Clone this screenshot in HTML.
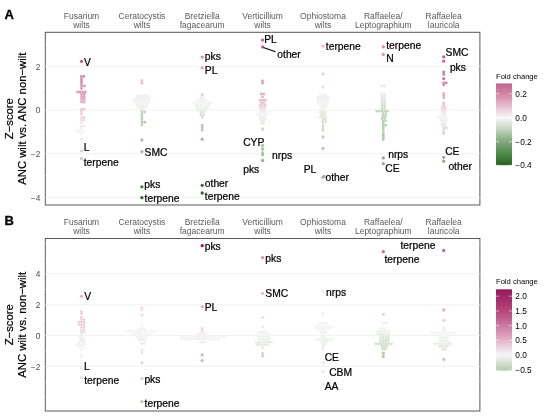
<!DOCTYPE html>
<html><head><meta charset="utf-8"><title>Figure</title>
<style>html,body{margin:0;padding:0;background:#fff}svg{display:block}</style>
</head><body>
<svg width="550" height="417" viewBox="0 0 550 417">
<style>
text{font-family:"Liberation Sans",sans-serif}
.lb{font-size:10.3px;fill:#000;stroke:#000;stroke-width:0.22px}
.tk{font-size:8.3px;fill:#4d4d4d;text-anchor:end}
.st{font-size:8.5px;fill:#5a5a5a;text-anchor:middle}
.ax{font-size:11.3px;fill:#000;stroke:#000;stroke-width:0.2px;text-anchor:middle}
.lt{font-size:7.6px;fill:#000}
.ll{font-size:8.3px;fill:#000}
.pn{font-size:13px;font-weight:bold;fill:#000;stroke:#000;stroke-width:0.3px}
</style>
<defs>
<linearGradient id="gA" x1="0" y1="0" x2="0" y2="1"><stop offset="0.000" stop-color="#c2648e"/><stop offset="0.042" stop-color="#c66f96"/><stop offset="0.083" stop-color="#cb799d"/><stop offset="0.125" stop-color="#d083a5"/><stop offset="0.167" stop-color="#d693b0"/><stop offset="0.208" stop-color="#dda3bc"/><stop offset="0.250" stop-color="#e3b3c7"/><stop offset="0.292" stop-color="#e9c4d3"/><stop offset="0.333" stop-color="#eed5df"/><stop offset="0.375" stop-color="#f3e6ec"/><stop offset="0.417" stop-color="#f8f8f8"/><stop offset="0.458" stop-color="#e9eee8"/><stop offset="0.500" stop-color="#d9e4d7"/><stop offset="0.542" stop-color="#cadac6"/><stop offset="0.583" stop-color="#b9cfb5"/><stop offset="0.625" stop-color="#a7c2a3"/><stop offset="0.667" stop-color="#96b691"/><stop offset="0.708" stop-color="#84a97f"/><stop offset="0.750" stop-color="#76a071"/><stop offset="0.792" stop-color="#679762"/><stop offset="0.833" stop-color="#598e54"/><stop offset="0.875" stop-color="#4c8447"/><stop offset="0.917" stop-color="#3f793b"/><stop offset="0.958" stop-color="#326e2e"/><stop offset="1.000" stop-color="#256322"/></linearGradient>
<linearGradient id="gB" x1="0" y1="0" x2="0" y2="1"><stop offset="0.000" stop-color="#96185a"/><stop offset="0.042" stop-color="#9b1f60"/><stop offset="0.083" stop-color="#a02665"/><stop offset="0.125" stop-color="#a52d6b"/><stop offset="0.167" stop-color="#aa3470"/><stop offset="0.208" stop-color="#af3b76"/><stop offset="0.250" stop-color="#b4437b"/><stop offset="0.292" stop-color="#b94d82"/><stop offset="0.333" stop-color="#be588a"/><stop offset="0.375" stop-color="#c36492"/><stop offset="0.417" stop-color="#c8709a"/><stop offset="0.458" stop-color="#cd7ca3"/><stop offset="0.500" stop-color="#d28aad"/><stop offset="0.542" stop-color="#d897b6"/><stop offset="0.583" stop-color="#dda5c0"/><stop offset="0.625" stop-color="#e3b2ca"/><stop offset="0.667" stop-color="#e8c2d4"/><stop offset="0.708" stop-color="#ecd2df"/><stop offset="0.750" stop-color="#f1e2e9"/><stop offset="0.792" stop-color="#f6f2f4"/><stop offset="0.833" stop-color="#eff2ee"/><stop offset="0.875" stop-color="#e0e8de"/><stop offset="0.917" stop-color="#d1dfce"/><stop offset="0.958" stop-color="#c2d5bd"/><stop offset="1.000" stop-color="#b3cbad"/></linearGradient>
</defs>
<rect width="550" height="417" fill="#fff"/>
<text x="40.3" y="69.6" class="tk">2</text>
<text x="40.3" y="113.3" class="tk">0</text>
<text x="40.3" y="157.0" class="tk">−2</text>
<text x="40.3" y="200.7" class="tk">−4</text>
<text x="81.5" y="18.6" class="st">Fusarium</text>
<text x="81.5" y="27.6" class="st">wilts</text>
<text x="141.9" y="18.6" class="st">Ceratocystis</text>
<text x="141.9" y="27.6" class="st">wilts</text>
<text x="202.2" y="18.6" class="st">Bretziella</text>
<text x="202.2" y="27.6" class="st">fagacearum</text>
<text x="262.6" y="18.6" class="st">Verticillium</text>
<text x="262.6" y="27.6" class="st">wilts</text>
<text x="323.0" y="18.6" class="st">Ophiostoma</text>
<text x="323.0" y="27.6" class="st">wilts</text>
<text x="383.3" y="18.6" class="st">Raffaelea/</text>
<text x="383.3" y="27.6" class="st">Leptographium</text>
<text x="443.7" y="18.6" class="st">Raffaelea</text>
<text x="443.7" y="27.6" class="st">lauricola</text>
<text x="4.6" y="19.2" class="pn">A</text>
<text transform="translate(13.2,118.7) rotate(-90)" class="ax">Z−score</text>
<text transform="translate(26.0,118.7) rotate(-90)" class="ax">ANC wilt vs. ANC non−wilt</text>
<rect x="45.3" y="32.3" width="434.6" height="172.7" fill="none" stroke="#595959" stroke-width="1"/>
<line x1="44.8" x2="481.9" y1="197.4" y2="197.4" stroke="#ebebeb" stroke-width="0.7"/>
<line x1="44.699999999999996" x2="45.9" y1="175.6" y2="175.6" stroke="#fff" stroke-width="0.6" opacity="0.8"/>
<line x1="479.29999999999995" x2="480.5" y1="175.6" y2="175.6" stroke="#fff" stroke-width="0.6" opacity="0.8"/>
<line x1="44.8" x2="481.9" y1="153.7" y2="153.7" stroke="#ebebeb" stroke-width="0.7"/>
<line x1="44.699999999999996" x2="45.9" y1="131.8" y2="131.8" stroke="#fff" stroke-width="0.6" opacity="0.8"/>
<line x1="479.29999999999995" x2="480.5" y1="131.8" y2="131.8" stroke="#fff" stroke-width="0.6" opacity="0.8"/>
<line x1="44.8" x2="481.9" y1="110.0" y2="110.0" stroke="#ebebeb" stroke-width="0.7"/>
<line x1="44.699999999999996" x2="45.9" y1="88.2" y2="88.2" stroke="#fff" stroke-width="0.6" opacity="0.8"/>
<line x1="479.29999999999995" x2="480.5" y1="88.2" y2="88.2" stroke="#fff" stroke-width="0.6" opacity="0.8"/>
<line x1="44.8" x2="481.9" y1="66.3" y2="66.3" stroke="#ebebeb" stroke-width="0.7"/>
<line x1="44.699999999999996" x2="45.9" y1="44.4" y2="44.4" stroke="#fff" stroke-width="0.6" opacity="0.8"/>
<line x1="479.29999999999995" x2="480.5" y1="44.4" y2="44.4" stroke="#fff" stroke-width="0.6" opacity="0.8"/>
<text x="40.3" y="277.3" class="tk">4</text>
<text x="40.3" y="308.1" class="tk">2</text>
<text x="40.3" y="338.9" class="tk">0</text>
<text x="40.3" y="369.7" class="tk">−2</text>
<text x="81.5" y="224.8" class="st">Fusarium</text>
<text x="81.5" y="233.8" class="st">wilts</text>
<text x="141.9" y="224.8" class="st">Ceratocystis</text>
<text x="141.9" y="233.8" class="st">wilts</text>
<text x="202.2" y="224.8" class="st">Bretziella</text>
<text x="202.2" y="233.8" class="st">fagacearum</text>
<text x="262.6" y="224.8" class="st">Verticillium</text>
<text x="262.6" y="233.8" class="st">wilts</text>
<text x="323.0" y="224.8" class="st">Ophiostoma</text>
<text x="323.0" y="233.8" class="st">wilts</text>
<text x="383.3" y="224.8" class="st">Raffaelea/</text>
<text x="383.3" y="233.8" class="st">Leptographium</text>
<text x="443.7" y="224.8" class="st">Raffaelea</text>
<text x="443.7" y="233.8" class="st">lauricola</text>
<text x="4.6" y="225" class="pn">B</text>
<text transform="translate(13.2,324.8) rotate(-90)" class="ax">Z−score</text>
<text transform="translate(26.0,324.8) rotate(-90)" class="ax">ANC wilt vs. non−wilt</text>
<rect x="45.3" y="238.5" width="434.6" height="172.5" fill="none" stroke="#595959" stroke-width="1"/>
<line x1="44.699999999999996" x2="45.9" y1="397.2" y2="397.2" stroke="#fff" stroke-width="0.6" opacity="0.8"/>
<line x1="479.29999999999995" x2="480.5" y1="397.2" y2="397.2" stroke="#fff" stroke-width="0.6" opacity="0.8"/>
<line x1="44.699999999999996" x2="45.9" y1="381.8" y2="381.8" stroke="#fff" stroke-width="0.6" opacity="0.8"/>
<line x1="479.29999999999995" x2="480.5" y1="381.8" y2="381.8" stroke="#fff" stroke-width="0.6" opacity="0.8"/>
<line x1="44.8" x2="481.9" y1="366.4" y2="366.4" stroke="#ebebeb" stroke-width="0.7"/>
<line x1="44.699999999999996" x2="45.9" y1="351.0" y2="351.0" stroke="#fff" stroke-width="0.6" opacity="0.8"/>
<line x1="479.29999999999995" x2="480.5" y1="351.0" y2="351.0" stroke="#fff" stroke-width="0.6" opacity="0.8"/>
<line x1="44.8" x2="481.9" y1="335.6" y2="335.6" stroke="#ebebeb" stroke-width="0.7"/>
<line x1="44.699999999999996" x2="45.9" y1="320.2" y2="320.2" stroke="#fff" stroke-width="0.6" opacity="0.8"/>
<line x1="479.29999999999995" x2="480.5" y1="320.2" y2="320.2" stroke="#fff" stroke-width="0.6" opacity="0.8"/>
<line x1="44.8" x2="481.9" y1="304.8" y2="304.8" stroke="#ebebeb" stroke-width="0.7"/>
<line x1="44.699999999999996" x2="45.9" y1="289.4" y2="289.4" stroke="#fff" stroke-width="0.6" opacity="0.8"/>
<line x1="479.29999999999995" x2="480.5" y1="289.4" y2="289.4" stroke="#fff" stroke-width="0.6" opacity="0.8"/>
<line x1="44.8" x2="481.9" y1="274.0" y2="274.0" stroke="#ebebeb" stroke-width="0.7"/>
<line x1="44.699999999999996" x2="45.9" y1="258.6" y2="258.6" stroke="#fff" stroke-width="0.6" opacity="0.8"/>
<line x1="479.29999999999995" x2="480.5" y1="258.6" y2="258.6" stroke="#fff" stroke-width="0.6" opacity="0.8"/>
<line x1="44.699999999999996" x2="45.9" y1="243.2" y2="243.2" stroke="#fff" stroke-width="0.6" opacity="0.8"/>
<line x1="479.29999999999995" x2="480.5" y1="243.2" y2="243.2" stroke="#fff" stroke-width="0.6" opacity="0.8"/>
<circle cx="81.5" cy="61.4" r="1.65" fill="#c4628d"/>
<circle cx="81.3" cy="76.5" r="1.38" fill="#d88aab"/>
<circle cx="83.9" cy="76.5" r="1.38" fill="#d88aab"/>
<circle cx="81.5" cy="79.1" r="1.38" fill="#d98cad"/>
<circle cx="81.5" cy="80.9" r="1.38" fill="#da8fae"/>
<circle cx="81.5" cy="82.6" r="1.38" fill="#db91b0"/>
<circle cx="81.5" cy="84.4" r="1.38" fill="#dc93b2"/>
<circle cx="84.5" cy="85.9" r="1.38" fill="#dc93b2"/>
<circle cx="81.5" cy="86.6" r="1.38" fill="#dc96b3"/>
<circle cx="81.5" cy="88.6" r="1.38" fill="#dd98b5"/>
<circle cx="77.6" cy="92.0" r="1.38" fill="#df9db8"/>
<circle cx="80.2" cy="92.0" r="1.38" fill="#df9db8"/>
<circle cx="82.8" cy="92.0" r="1.38" fill="#df9db8"/>
<circle cx="85.4" cy="92.0" r="1.38" fill="#df9db8"/>
<circle cx="81.6" cy="94.2" r="1.38" fill="#e1a2bc"/>
<circle cx="84.2" cy="94.2" r="1.38" fill="#e1a2bc"/>
<circle cx="81.6" cy="96.4" r="1.38" fill="#e3a6bf"/>
<circle cx="84.2" cy="96.4" r="1.38" fill="#e3a6bf"/>
<circle cx="81.6" cy="98.2" r="1.38" fill="#e5abc2"/>
<circle cx="84.2" cy="98.2" r="1.38" fill="#e5abc2"/>
<circle cx="81.6" cy="100.3" r="1.38" fill="#e6b0c5"/>
<circle cx="84.2" cy="100.3" r="1.38" fill="#e6b0c5"/>
<circle cx="81.6" cy="102.2" r="1.38" fill="#e8b4c9"/>
<circle cx="84.2" cy="102.2" r="1.38" fill="#e8b4c9"/>
<circle cx="81.6" cy="109.2" r="1.38" fill="#ecc8d6"/>
<circle cx="84.2" cy="109.2" r="1.38" fill="#ecc8d6"/>
<circle cx="81.5" cy="111.5" r="1.38" fill="#edcad8"/>
<circle cx="81.5" cy="114.0" r="1.38" fill="#edcdda"/>
<circle cx="81.6" cy="117.5" r="1.38" fill="#eed6e0"/>
<circle cx="84.2" cy="117.5" r="1.38" fill="#eed6e0"/>
<circle cx="81.5" cy="120.0" r="1.38" fill="#efd9e1"/>
<circle cx="84.1" cy="120.0" r="1.38" fill="#efd9e1"/>
<circle cx="81.5" cy="122.6" r="1.38" fill="#efdce3"/>
<circle cx="81.5" cy="126.2" r="1.38" fill="#f1e7eb"/>
<circle cx="84.1" cy="126.2" r="1.38" fill="#f1e7eb"/>
<circle cx="80.5" cy="128.4" r="1.38" fill="#f2eaed"/>
<circle cx="76.6" cy="131.5" r="1.38" fill="#f3f3f3"/>
<circle cx="79.2" cy="131.5" r="1.38" fill="#f3f3f3"/>
<circle cx="81.8" cy="131.5" r="1.38" fill="#f3f3f3"/>
<circle cx="84.4" cy="131.5" r="1.38" fill="#f3f3f3"/>
<circle cx="81.5" cy="133.5" r="1.38" fill="#f3f3f3"/>
<circle cx="81.5" cy="139.2" r="1.65" fill="#e5eae3"/>
<circle cx="81.5" cy="150.8" r="1.65" fill="#cddcc9"/>
<circle cx="81.5" cy="158.7" r="1.65" fill="#c3d6be"/>
<text x="84.0" y="65.5" class="lb">V</text>
<text x="83.7" y="151.4" class="lb">L</text>
<text x="83.7" y="166.0" class="lb">terpene</text>
<circle cx="141.9" cy="80.6" r="1.38" fill="#eab9cc"/>
<circle cx="141.9" cy="83.2" r="1.38" fill="#eabcce"/>
<circle cx="137.7" cy="96.0" r="1.38" fill="#f2ecee"/>
<circle cx="140.3" cy="96.0" r="1.38" fill="#f2ecee"/>
<circle cx="142.9" cy="96.0" r="1.38" fill="#f2ecee"/>
<circle cx="145.5" cy="96.0" r="1.38" fill="#f2ecee"/>
<circle cx="148.1" cy="96.0" r="1.38" fill="#f2ecee"/>
<circle cx="135.9" cy="98.3" r="1.38" fill="#f2edef"/>
<circle cx="138.5" cy="98.3" r="1.38" fill="#f2edef"/>
<circle cx="141.1" cy="98.3" r="1.38" fill="#f2edef"/>
<circle cx="143.7" cy="98.3" r="1.38" fill="#f2edef"/>
<circle cx="146.3" cy="98.3" r="1.38" fill="#f2edef"/>
<circle cx="148.9" cy="98.3" r="1.38" fill="#f2edef"/>
<circle cx="133.6" cy="100.6" r="1.38" fill="#f3f0f1"/>
<circle cx="136.2" cy="100.6" r="1.38" fill="#f3f0f1"/>
<circle cx="138.8" cy="100.6" r="1.38" fill="#f3f0f1"/>
<circle cx="141.4" cy="100.6" r="1.38" fill="#f3f0f1"/>
<circle cx="144.0" cy="100.6" r="1.38" fill="#f3f0f1"/>
<circle cx="146.6" cy="100.6" r="1.38" fill="#f3f0f1"/>
<circle cx="149.2" cy="100.6" r="1.38" fill="#f3f0f1"/>
<circle cx="135.4" cy="102.8" r="1.38" fill="#f3f3f3"/>
<circle cx="138.0" cy="102.8" r="1.38" fill="#f3f3f3"/>
<circle cx="140.6" cy="102.8" r="1.38" fill="#f3f3f3"/>
<circle cx="143.2" cy="102.8" r="1.38" fill="#f3f3f3"/>
<circle cx="145.8" cy="102.8" r="1.38" fill="#f3f3f3"/>
<circle cx="148.4" cy="102.8" r="1.38" fill="#f3f3f3"/>
<circle cx="136.7" cy="105.0" r="1.38" fill="#f1f2f0"/>
<circle cx="139.3" cy="105.0" r="1.38" fill="#f1f2f0"/>
<circle cx="141.9" cy="105.0" r="1.38" fill="#f1f2f0"/>
<circle cx="144.5" cy="105.0" r="1.38" fill="#f1f2f0"/>
<circle cx="147.1" cy="105.0" r="1.38" fill="#f1f2f0"/>
<circle cx="138.0" cy="107.2" r="1.38" fill="#eef0ee"/>
<circle cx="140.6" cy="107.2" r="1.38" fill="#eef0ee"/>
<circle cx="143.2" cy="107.2" r="1.38" fill="#eef0ee"/>
<circle cx="145.8" cy="107.2" r="1.38" fill="#eef0ee"/>
<circle cx="140.6" cy="109.3" r="1.38" fill="#e9ede8"/>
<circle cx="143.2" cy="109.3" r="1.38" fill="#e9ede8"/>
<circle cx="142.1" cy="112.0" r="1.38" fill="#c3d6be"/>
<circle cx="144.7" cy="112.0" r="1.38" fill="#c3d6be"/>
<circle cx="141.9" cy="114.5" r="1.38" fill="#bed2b9"/>
<circle cx="141.9" cy="117.0" r="1.38" fill="#bbd1b6"/>
<circle cx="141.9" cy="119.5" r="1.38" fill="#b9cfb3"/>
<circle cx="142.1" cy="122.2" r="1.38" fill="#b6cdb1"/>
<circle cx="144.7" cy="122.2" r="1.38" fill="#b6cdb1"/>
<circle cx="141.9" cy="124.6" r="1.38" fill="#b3ccae"/>
<circle cx="141.9" cy="140.0" r="1.65" fill="#a6c3a1"/>
<circle cx="141.9" cy="151.6" r="1.65" fill="#a1bf9c"/>
<circle cx="141.9" cy="186.8" r="1.65" fill="#427c3e"/>
<circle cx="141.9" cy="197.7" r="1.65" fill="#2c6929"/>
<text x="144.6" y="155.7" class="lb">SMC</text>
<text x="144.3" y="188.2" class="lb">pks</text>
<text x="144.6" y="202.1" class="lb">terpene</text>
<circle cx="202.2" cy="57.1" r="1.65" fill="#d686a8"/>
<circle cx="202.2" cy="67.9" r="1.65" fill="#e1a2bc"/>
<circle cx="202.2" cy="94.6" r="1.65" fill="#eed0dc"/>
<circle cx="200.9" cy="98.0" r="1.38" fill="#f2eaed"/>
<circle cx="203.5" cy="98.0" r="1.38" fill="#f2eaed"/>
<circle cx="198.3" cy="100.4" r="1.38" fill="#f2edef"/>
<circle cx="200.9" cy="100.4" r="1.38" fill="#f2edef"/>
<circle cx="203.5" cy="100.4" r="1.38" fill="#f2edef"/>
<circle cx="206.1" cy="100.4" r="1.38" fill="#f2edef"/>
<circle cx="193.1" cy="103.0" r="1.38" fill="#f3f3f3"/>
<circle cx="195.7" cy="103.0" r="1.38" fill="#f3f3f3"/>
<circle cx="198.3" cy="103.0" r="1.38" fill="#f3f3f3"/>
<circle cx="200.9" cy="103.0" r="1.38" fill="#f3f3f3"/>
<circle cx="203.5" cy="103.0" r="1.38" fill="#f3f3f3"/>
<circle cx="206.1" cy="103.0" r="1.38" fill="#f3f3f3"/>
<circle cx="208.7" cy="103.0" r="1.38" fill="#f3f3f3"/>
<circle cx="211.3" cy="103.0" r="1.38" fill="#f3f3f3"/>
<circle cx="195.7" cy="105.3" r="1.38" fill="#f1f2f0"/>
<circle cx="198.3" cy="105.3" r="1.38" fill="#f1f2f0"/>
<circle cx="200.9" cy="105.3" r="1.38" fill="#f1f2f0"/>
<circle cx="203.5" cy="105.3" r="1.38" fill="#f1f2f0"/>
<circle cx="206.1" cy="105.3" r="1.38" fill="#f1f2f0"/>
<circle cx="208.7" cy="105.3" r="1.38" fill="#f1f2f0"/>
<circle cx="197.0" cy="107.6" r="1.38" fill="#eef0ee"/>
<circle cx="199.6" cy="107.6" r="1.38" fill="#eef0ee"/>
<circle cx="202.2" cy="107.6" r="1.38" fill="#eef0ee"/>
<circle cx="204.8" cy="107.6" r="1.38" fill="#eef0ee"/>
<circle cx="207.4" cy="107.6" r="1.38" fill="#eef0ee"/>
<circle cx="198.3" cy="110.0" r="1.38" fill="#e9ede8"/>
<circle cx="200.9" cy="110.0" r="1.38" fill="#e9ede8"/>
<circle cx="203.5" cy="110.0" r="1.38" fill="#e9ede8"/>
<circle cx="206.1" cy="110.0" r="1.38" fill="#e9ede8"/>
<circle cx="200.9" cy="112.5" r="1.38" fill="#e0e7de"/>
<circle cx="203.5" cy="112.5" r="1.38" fill="#e0e7de"/>
<circle cx="200.9" cy="115.0" r="1.38" fill="#d6e2d3"/>
<circle cx="203.5" cy="115.0" r="1.38" fill="#d6e2d3"/>
<circle cx="202.2" cy="117.5" r="1.38" fill="#d1dfce"/>
<circle cx="202.2" cy="125.2" r="1.38" fill="#b3ccae"/>
<circle cx="202.2" cy="127.6" r="1.38" fill="#b1caab"/>
<circle cx="202.2" cy="130.0" r="1.38" fill="#aec8a9"/>
<circle cx="202.2" cy="139.2" r="1.65" fill="#a4c19e"/>
<circle cx="202.2" cy="185.3" r="1.65" fill="#336f30"/>
<circle cx="202.2" cy="193.0" r="1.65" fill="#2a6727"/>
<text x="204.8" y="59.5" class="lb">pks</text>
<text x="204.8" y="73.6" class="lb">PL</text>
<text x="204.8" y="187.3" class="lb">other</text>
<text x="204.8" y="200.3" class="lb">terpene</text>
<circle cx="262.6" cy="40.1" r="1.65" fill="#c4628d"/>
<circle cx="262.6" cy="47.0" r="1.65" fill="#c86b94"/>
<circle cx="262.6" cy="81.0" r="1.38" fill="#e1a2bc"/>
<circle cx="262.6" cy="83.2" r="1.38" fill="#e2a4bd"/>
<circle cx="261.3" cy="94.0" r="1.38" fill="#e6b0c5"/>
<circle cx="263.9" cy="94.0" r="1.38" fill="#e6b0c5"/>
<circle cx="262.6" cy="97.0" r="1.38" fill="#e7b2c7"/>
<circle cx="260.0" cy="100.2" r="1.38" fill="#eab9cc"/>
<circle cx="262.6" cy="100.2" r="1.38" fill="#eab9cc"/>
<circle cx="265.2" cy="100.2" r="1.38" fill="#eab9cc"/>
<circle cx="261.3" cy="102.6" r="1.38" fill="#ebc2d2"/>
<circle cx="263.9" cy="102.6" r="1.38" fill="#ebc2d2"/>
<circle cx="260.0" cy="104.9" r="1.38" fill="#edcdda"/>
<circle cx="262.6" cy="104.9" r="1.38" fill="#edcdda"/>
<circle cx="265.2" cy="104.9" r="1.38" fill="#edcdda"/>
<circle cx="260.0" cy="107.4" r="1.38" fill="#eed6e0"/>
<circle cx="262.6" cy="107.4" r="1.38" fill="#eed6e0"/>
<circle cx="265.2" cy="107.4" r="1.38" fill="#eed6e0"/>
<circle cx="261.3" cy="109.8" r="1.38" fill="#f0e2e7"/>
<circle cx="263.9" cy="109.8" r="1.38" fill="#f0e2e7"/>
<circle cx="260.0" cy="112.0" r="1.38" fill="#f2ecee"/>
<circle cx="262.6" cy="112.0" r="1.38" fill="#f2ecee"/>
<circle cx="265.2" cy="112.0" r="1.38" fill="#f2ecee"/>
<circle cx="257.4" cy="114.2" r="1.38" fill="#f3f3f3"/>
<circle cx="260.0" cy="114.2" r="1.38" fill="#f3f3f3"/>
<circle cx="262.6" cy="114.2" r="1.38" fill="#f3f3f3"/>
<circle cx="265.2" cy="114.2" r="1.38" fill="#f3f3f3"/>
<circle cx="267.8" cy="114.2" r="1.38" fill="#f3f3f3"/>
<circle cx="260.0" cy="116.6" r="1.38" fill="#eef0ee"/>
<circle cx="262.6" cy="116.6" r="1.38" fill="#eef0ee"/>
<circle cx="265.2" cy="116.6" r="1.38" fill="#eef0ee"/>
<circle cx="260.0" cy="119.0" r="1.38" fill="#e9ede8"/>
<circle cx="262.6" cy="119.0" r="1.38" fill="#e9ede8"/>
<circle cx="265.2" cy="119.0" r="1.38" fill="#e9ede8"/>
<circle cx="261.3" cy="121.4" r="1.38" fill="#e5eae3"/>
<circle cx="263.9" cy="121.4" r="1.38" fill="#e5eae3"/>
<circle cx="262.6" cy="123.6" r="1.38" fill="#e0e7de"/>
<circle cx="262.6" cy="129.0" r="1.65" fill="#c8d9c3"/>
<circle cx="262.6" cy="145.5" r="1.65" fill="#aec8a9"/>
<circle cx="262.6" cy="149.0" r="1.65" fill="#a9c4a4"/>
<circle cx="262.6" cy="152.7" r="1.38" fill="#a4c19e"/>
<circle cx="262.6" cy="154.9" r="1.38" fill="#a1bf9c"/>
<circle cx="262.6" cy="160.5" r="1.65" fill="#94b68e"/>
<line x1="263.4" y1="47.6" x2="275.6" y2="51.8" stroke="#000" stroke-width="1.1"/>
<text x="264.2" y="43.4" class="lb">PL</text>
<text x="277.3" y="58.3" class="lb">other</text>
<text x="243.2" y="145.5" class="lb">CYP</text>
<text x="272.0" y="159.3" class="lb">nrps</text>
<text x="243.2" y="173.1" class="lb">pks</text>
<circle cx="323.0" cy="46.1" r="1.65" fill="#eab9cc"/>
<circle cx="323.0" cy="73.9" r="1.65" fill="#eed0dc"/>
<circle cx="323.0" cy="87.0" r="1.65" fill="#f0dfe5"/>
<circle cx="320.4" cy="95.0" r="1.38" fill="#f2edef"/>
<circle cx="323.0" cy="95.0" r="1.38" fill="#f2edef"/>
<circle cx="325.6" cy="95.0" r="1.38" fill="#f2edef"/>
<circle cx="317.8" cy="97.2" r="1.38" fill="#f2eef0"/>
<circle cx="320.4" cy="97.2" r="1.38" fill="#f2eef0"/>
<circle cx="323.0" cy="97.2" r="1.38" fill="#f2eef0"/>
<circle cx="325.6" cy="97.2" r="1.38" fill="#f2eef0"/>
<circle cx="328.2" cy="97.2" r="1.38" fill="#f2eef0"/>
<circle cx="317.8" cy="99.4" r="1.38" fill="#f3f0f1"/>
<circle cx="320.4" cy="99.4" r="1.38" fill="#f3f0f1"/>
<circle cx="323.0" cy="99.4" r="1.38" fill="#f3f0f1"/>
<circle cx="325.6" cy="99.4" r="1.38" fill="#f3f0f1"/>
<circle cx="328.2" cy="99.4" r="1.38" fill="#f3f0f1"/>
<circle cx="317.8" cy="101.6" r="1.38" fill="#f3f3f3"/>
<circle cx="320.4" cy="101.6" r="1.38" fill="#f3f3f3"/>
<circle cx="323.0" cy="101.6" r="1.38" fill="#f3f3f3"/>
<circle cx="325.6" cy="101.6" r="1.38" fill="#f3f3f3"/>
<circle cx="328.2" cy="101.6" r="1.38" fill="#f3f3f3"/>
<circle cx="319.1" cy="103.8" r="1.38" fill="#f3f3f3"/>
<circle cx="321.7" cy="103.8" r="1.38" fill="#f3f3f3"/>
<circle cx="324.3" cy="103.8" r="1.38" fill="#f3f3f3"/>
<circle cx="326.9" cy="103.8" r="1.38" fill="#f3f3f3"/>
<circle cx="320.4" cy="106.0" r="1.38" fill="#f1f2f0"/>
<circle cx="323.0" cy="106.0" r="1.38" fill="#f1f2f0"/>
<circle cx="325.6" cy="106.0" r="1.38" fill="#f1f2f0"/>
<circle cx="321.7" cy="108.3" r="1.38" fill="#eef0ee"/>
<circle cx="324.3" cy="108.3" r="1.38" fill="#eef0ee"/>
<circle cx="320.4" cy="112.0" r="1.38" fill="#e5eae3"/>
<circle cx="323.0" cy="112.0" r="1.38" fill="#e5eae3"/>
<circle cx="325.6" cy="112.0" r="1.38" fill="#e5eae3"/>
<circle cx="321.7" cy="114.3" r="1.38" fill="#e2e9e0"/>
<circle cx="324.3" cy="114.3" r="1.38" fill="#e2e9e0"/>
<circle cx="320.4" cy="116.6" r="1.38" fill="#e0e7de"/>
<circle cx="323.0" cy="116.6" r="1.38" fill="#e0e7de"/>
<circle cx="325.6" cy="116.6" r="1.38" fill="#e0e7de"/>
<circle cx="322.7" cy="119.0" r="1.38" fill="#dbe4d8"/>
<circle cx="325.3" cy="119.0" r="1.38" fill="#dbe4d8"/>
<circle cx="322.7" cy="121.3" r="1.38" fill="#d9e3d6"/>
<circle cx="325.3" cy="121.3" r="1.38" fill="#d9e3d6"/>
<circle cx="323.0" cy="124.0" r="1.38" fill="#d6e2d3"/>
<circle cx="323.0" cy="126.3" r="1.38" fill="#d4e0d1"/>
<circle cx="323.0" cy="128.6" r="1.38" fill="#d1dfce"/>
<circle cx="323.0" cy="130.5" r="1.38" fill="#cfddcb"/>
<circle cx="323.0" cy="137.0" r="1.65" fill="#bed2b9"/>
<circle cx="323.0" cy="148.4" r="1.65" fill="#b3ccae"/>
<circle cx="323.0" cy="177.2" r="1.65" fill="#9fbe99"/>
<circle cx="324.2" cy="176.4" r="1.65" fill="#9fbe99"/>
<text x="325.8" y="49.7" class="lb">terpene</text>
<text x="303.7" y="172.8" class="lb">PL</text>
<text x="325.5" y="181.3" class="lb">other</text>
<circle cx="383.3" cy="46.8" r="1.65" fill="#d88aab"/>
<circle cx="383.3" cy="54.5" r="1.65" fill="#dd98b5"/>
<circle cx="382.0" cy="86.2" r="1.38" fill="#f1e4e9"/>
<circle cx="384.6" cy="86.2" r="1.38" fill="#f1e4e9"/>
<circle cx="382.0" cy="94.0" r="1.38" fill="#e9ede8"/>
<circle cx="384.6" cy="94.0" r="1.38" fill="#e9ede8"/>
<circle cx="382.0" cy="96.4" r="1.38" fill="#e5eae3"/>
<circle cx="384.6" cy="96.4" r="1.38" fill="#e5eae3"/>
<circle cx="382.0" cy="98.8" r="1.38" fill="#e0e7de"/>
<circle cx="384.6" cy="98.8" r="1.38" fill="#e0e7de"/>
<circle cx="382.0" cy="101.2" r="1.38" fill="#dbe4d8"/>
<circle cx="384.6" cy="101.2" r="1.38" fill="#dbe4d8"/>
<circle cx="382.0" cy="103.6" r="1.38" fill="#d6e2d3"/>
<circle cx="384.6" cy="103.6" r="1.38" fill="#d6e2d3"/>
<circle cx="382.0" cy="106.0" r="1.38" fill="#d1dfce"/>
<circle cx="384.6" cy="106.0" r="1.38" fill="#d1dfce"/>
<circle cx="382.0" cy="108.6" r="1.38" fill="#cddcc9"/>
<circle cx="384.6" cy="108.6" r="1.38" fill="#cddcc9"/>
<circle cx="376.8" cy="111.2" r="1.38" fill="#c8d9c3"/>
<circle cx="379.4" cy="111.2" r="1.38" fill="#c8d9c3"/>
<circle cx="382.0" cy="111.2" r="1.38" fill="#c8d9c3"/>
<circle cx="384.6" cy="111.2" r="1.38" fill="#c8d9c3"/>
<circle cx="387.2" cy="111.2" r="1.38" fill="#c8d9c3"/>
<circle cx="383.0" cy="113.6" r="1.38" fill="#c3d6be"/>
<circle cx="385.6" cy="113.6" r="1.38" fill="#c3d6be"/>
<circle cx="383.0" cy="116.0" r="1.38" fill="#c0d4bb"/>
<circle cx="385.6" cy="116.0" r="1.38" fill="#c0d4bb"/>
<circle cx="382.0" cy="118.4" r="1.38" fill="#bed2b9"/>
<circle cx="384.6" cy="118.4" r="1.38" fill="#bed2b9"/>
<circle cx="383.0" cy="120.8" r="1.38" fill="#bbd1b6"/>
<circle cx="385.6" cy="120.8" r="1.38" fill="#bbd1b6"/>
<circle cx="383.3" cy="123.0" r="1.38" fill="#b9cfb3"/>
<circle cx="383.0" cy="125.2" r="1.38" fill="#b6cdb1"/>
<circle cx="385.6" cy="125.2" r="1.38" fill="#b6cdb1"/>
<circle cx="383.3" cy="127.6" r="1.38" fill="#b3ccae"/>
<circle cx="383.3" cy="130.0" r="1.38" fill="#b3ccae"/>
<circle cx="383.3" cy="133.0" r="1.38" fill="#b1caab"/>
<circle cx="383.3" cy="135.2" r="1.38" fill="#aec8a9"/>
<circle cx="383.3" cy="137.4" r="1.38" fill="#aec8a9"/>
<circle cx="383.3" cy="139.4" r="1.38" fill="#acc6a6"/>
<circle cx="383.3" cy="157.9" r="1.65" fill="#89af83"/>
<circle cx="383.3" cy="163.7" r="1.65" fill="#8fb389"/>
<text x="386.2" y="48.6" class="lb">terpene</text>
<text x="386.2" y="61.9" class="lb">N</text>
<text x="388.2" y="158.0" class="lb">nrps</text>
<text x="385.3" y="171.5" class="lb">CE</text>
<circle cx="443.7" cy="56.9" r="1.65" fill="#c66690"/>
<circle cx="443.7" cy="61.2" r="1.65" fill="#c86b94"/>
<circle cx="443.7" cy="72.0" r="1.38" fill="#cd749a"/>
<circle cx="443.7" cy="74.4" r="1.38" fill="#cf789e"/>
<circle cx="443.7" cy="78.7" r="1.65" fill="#d17da1"/>
<circle cx="443.6" cy="82.8" r="1.38" fill="#d583a6"/>
<circle cx="446.2" cy="82.8" r="1.38" fill="#d583a6"/>
<circle cx="443.7" cy="84.9" r="1.38" fill="#d686a8"/>
<circle cx="443.7" cy="93.6" r="1.38" fill="#e3a6bf"/>
<circle cx="443.7" cy="95.8" r="1.38" fill="#e4a9c0"/>
<circle cx="443.7" cy="97.9" r="1.38" fill="#e5abc2"/>
<circle cx="443.7" cy="102.8" r="1.38" fill="#ebbfd0"/>
<circle cx="443.7" cy="104.8" r="1.38" fill="#ecc5d4"/>
<circle cx="442.4" cy="107.4" r="1.38" fill="#eed0dc"/>
<circle cx="445.0" cy="107.4" r="1.38" fill="#eed0dc"/>
<circle cx="442.4" cy="109.5" r="1.38" fill="#efd9e1"/>
<circle cx="445.0" cy="109.5" r="1.38" fill="#efd9e1"/>
<circle cx="442.4" cy="112.0" r="1.38" fill="#f0e2e7"/>
<circle cx="445.0" cy="112.0" r="1.38" fill="#f0e2e7"/>
<circle cx="442.4" cy="114.7" r="1.38" fill="#f2eaed"/>
<circle cx="445.0" cy="114.7" r="1.38" fill="#f2eaed"/>
<circle cx="438.8" cy="117.3" r="1.38" fill="#f3f3f3"/>
<circle cx="441.4" cy="117.3" r="1.38" fill="#f3f3f3"/>
<circle cx="444.0" cy="117.3" r="1.38" fill="#f3f3f3"/>
<circle cx="446.6" cy="117.3" r="1.38" fill="#f3f3f3"/>
<circle cx="441.1" cy="120.0" r="1.38" fill="#eef0ee"/>
<circle cx="443.7" cy="120.0" r="1.38" fill="#eef0ee"/>
<circle cx="446.3" cy="120.0" r="1.38" fill="#eef0ee"/>
<circle cx="442.4" cy="122.6" r="1.38" fill="#e9ede8"/>
<circle cx="445.0" cy="122.6" r="1.38" fill="#e9ede8"/>
<circle cx="442.4" cy="125.2" r="1.38" fill="#e0e7de"/>
<circle cx="445.0" cy="125.2" r="1.38" fill="#e0e7de"/>
<circle cx="443.8" cy="127.9" r="1.38" fill="#d6e2d3"/>
<circle cx="446.4" cy="127.9" r="1.38" fill="#d6e2d3"/>
<circle cx="443.7" cy="130.5" r="1.38" fill="#cddcc9"/>
<circle cx="443.7" cy="133.2" r="1.38" fill="#c8d9c3"/>
<circle cx="443.7" cy="157.3" r="1.65" fill="#8fb389"/>
<circle cx="443.7" cy="161.2" r="1.65" fill="#8fb389"/>
<text x="445.6" y="55.9" class="lb">SMC</text>
<text x="449.9" y="71.2" class="lb">pks</text>
<text x="445.2" y="155.0" class="lb">CE</text>
<text x="448.4" y="169.9" class="lb">other</text>
<circle cx="81.5" cy="296.3" r="1.65" fill="#e4b0c7"/>
<circle cx="81.5" cy="311.6" r="1.38" fill="#ebcbd9"/>
<circle cx="81.5" cy="313.7" r="1.38" fill="#ebccda"/>
<circle cx="81.5" cy="317.5" r="1.38" fill="#eccfdb"/>
<circle cx="81.5" cy="319.6" r="1.38" fill="#ecd0dc"/>
<circle cx="84.1" cy="319.6" r="1.38" fill="#ecd0dc"/>
<circle cx="78.9" cy="322.2" r="1.38" fill="#ecd1dd"/>
<circle cx="81.5" cy="322.2" r="1.38" fill="#ecd1dd"/>
<circle cx="84.1" cy="322.2" r="1.38" fill="#ecd1dd"/>
<circle cx="78.9" cy="324.8" r="1.38" fill="#edd4df"/>
<circle cx="81.5" cy="324.8" r="1.38" fill="#edd4df"/>
<circle cx="84.1" cy="324.8" r="1.38" fill="#edd4df"/>
<circle cx="81.5" cy="327.2" r="1.38" fill="#edd6e0"/>
<circle cx="84.1" cy="327.2" r="1.38" fill="#edd6e0"/>
<circle cx="81.5" cy="329.6" r="1.38" fill="#eed9e2"/>
<circle cx="84.1" cy="329.6" r="1.38" fill="#eed9e2"/>
<circle cx="81.5" cy="332.0" r="1.38" fill="#efdce4"/>
<circle cx="84.1" cy="332.0" r="1.38" fill="#efdce4"/>
<circle cx="81.5" cy="334.5" r="1.38" fill="#f0e0e7"/>
<circle cx="80.2" cy="338.0" r="1.38" fill="#f1e8ec"/>
<circle cx="82.8" cy="338.0" r="1.38" fill="#f1e8ec"/>
<circle cx="81.2" cy="340.3" r="1.38" fill="#f2ebee"/>
<circle cx="83.8" cy="340.3" r="1.38" fill="#f2ebee"/>
<circle cx="78.9" cy="342.5" r="1.38" fill="#f3eff1"/>
<circle cx="81.5" cy="342.5" r="1.38" fill="#f3eff1"/>
<circle cx="84.1" cy="342.5" r="1.38" fill="#f3eff1"/>
<circle cx="76.6" cy="344.7" r="1.38" fill="#f3f2f2"/>
<circle cx="79.2" cy="344.7" r="1.38" fill="#f3f2f2"/>
<circle cx="81.8" cy="344.7" r="1.38" fill="#f3f2f2"/>
<circle cx="84.4" cy="344.7" r="1.38" fill="#f3f2f2"/>
<circle cx="80.2" cy="347.0" r="1.38" fill="#f4f3f3"/>
<circle cx="82.8" cy="347.0" r="1.38" fill="#f4f3f3"/>
<circle cx="81.5" cy="350.0" r="1.38" fill="#f4f4f4"/>
<circle cx="81.5" cy="355.0" r="1.38" fill="#f4f4f4"/>
<circle cx="81.5" cy="357.5" r="1.38" fill="#f3f3f3"/>
<circle cx="81.5" cy="368.2" r="1.65" fill="#e4ebe2"/>
<circle cx="81.5" cy="377.7" r="1.65" fill="#dae5d6"/>
<text x="84.2" y="300.4" class="lb">V</text>
<text x="84.0" y="370.2" class="lb">L</text>
<text x="84.2" y="384.2" class="lb">terpene</text>
<circle cx="141.9" cy="307.6" r="1.38" fill="#eed7e1"/>
<circle cx="141.9" cy="310.0" r="1.38" fill="#eedbe4"/>
<circle cx="141.9" cy="315.1" r="1.65" fill="#f0e0e7"/>
<circle cx="141.9" cy="326.0" r="1.38" fill="#f3f2f2"/>
<circle cx="138.0" cy="328.8" r="1.38" fill="#f4f3f3"/>
<circle cx="140.6" cy="328.8" r="1.38" fill="#f4f3f3"/>
<circle cx="143.2" cy="328.8" r="1.38" fill="#f4f3f3"/>
<circle cx="145.8" cy="328.8" r="1.38" fill="#f4f3f3"/>
<circle cx="126.6" cy="331.2" r="1.38" fill="#f4f4f4"/>
<circle cx="129.2" cy="331.2" r="1.38" fill="#f4f4f4"/>
<circle cx="131.8" cy="331.2" r="1.38" fill="#f4f4f4"/>
<circle cx="134.4" cy="331.2" r="1.38" fill="#f4f4f4"/>
<circle cx="137.0" cy="331.2" r="1.38" fill="#f4f4f4"/>
<circle cx="139.6" cy="331.2" r="1.38" fill="#f4f4f4"/>
<circle cx="142.2" cy="331.2" r="1.38" fill="#f4f4f4"/>
<circle cx="144.8" cy="331.2" r="1.38" fill="#f4f4f4"/>
<circle cx="147.4" cy="331.2" r="1.38" fill="#f4f4f4"/>
<circle cx="150.0" cy="331.2" r="1.38" fill="#f4f4f4"/>
<circle cx="152.6" cy="331.2" r="1.38" fill="#f4f4f4"/>
<circle cx="155.2" cy="331.2" r="1.38" fill="#f4f4f4"/>
<circle cx="132.3" cy="333.6" r="1.38" fill="#f4f4f4"/>
<circle cx="134.9" cy="333.6" r="1.38" fill="#f4f4f4"/>
<circle cx="137.5" cy="333.6" r="1.38" fill="#f4f4f4"/>
<circle cx="140.1" cy="333.6" r="1.38" fill="#f4f4f4"/>
<circle cx="142.7" cy="333.6" r="1.38" fill="#f4f4f4"/>
<circle cx="145.3" cy="333.6" r="1.38" fill="#f4f4f4"/>
<circle cx="147.9" cy="333.6" r="1.38" fill="#f4f4f4"/>
<circle cx="150.5" cy="333.6" r="1.38" fill="#f4f4f4"/>
<circle cx="136.7" cy="335.9" r="1.38" fill="#f3f3f3"/>
<circle cx="139.3" cy="335.9" r="1.38" fill="#f3f3f3"/>
<circle cx="141.9" cy="335.9" r="1.38" fill="#f3f3f3"/>
<circle cx="144.5" cy="335.9" r="1.38" fill="#f3f3f3"/>
<circle cx="147.1" cy="335.9" r="1.38" fill="#f3f3f3"/>
<circle cx="138.0" cy="338.2" r="1.38" fill="#f1f2f1"/>
<circle cx="140.6" cy="338.2" r="1.38" fill="#f1f2f1"/>
<circle cx="143.2" cy="338.2" r="1.38" fill="#f1f2f1"/>
<circle cx="145.8" cy="338.2" r="1.38" fill="#f1f2f1"/>
<circle cx="139.3" cy="340.3" r="1.38" fill="#eff1ee"/>
<circle cx="141.9" cy="340.3" r="1.38" fill="#eff1ee"/>
<circle cx="144.5" cy="340.3" r="1.38" fill="#eff1ee"/>
<circle cx="141.8" cy="343.7" r="1.38" fill="#e9eee8"/>
<circle cx="144.4" cy="343.7" r="1.38" fill="#e9eee8"/>
<circle cx="141.9" cy="350.4" r="1.38" fill="#e0e9de"/>
<circle cx="141.9" cy="353.0" r="1.38" fill="#e0e9de"/>
<circle cx="141.9" cy="363.0" r="1.65" fill="#d4e2d0"/>
<circle cx="141.9" cy="378.6" r="1.65" fill="#c8d9c3"/>
<circle cx="141.9" cy="401.7" r="1.65" fill="#b6cdb1"/>
<text x="144.4" y="382.6" class="lb">pks</text>
<text x="144.6" y="407.1" class="lb">terpene</text>
<circle cx="202.2" cy="245.7" r="1.65" fill="#96185a"/>
<circle cx="202.2" cy="306.8" r="1.65" fill="#dea4be"/>
<circle cx="202.2" cy="328.7" r="1.38" fill="#eccfdb"/>
<circle cx="202.2" cy="331.0" r="1.38" fill="#eed9e2"/>
<circle cx="198.3" cy="333.6" r="1.38" fill="#f2edef"/>
<circle cx="200.9" cy="333.6" r="1.38" fill="#f2edef"/>
<circle cx="203.5" cy="333.6" r="1.38" fill="#f2edef"/>
<circle cx="206.1" cy="333.6" r="1.38" fill="#f2edef"/>
<circle cx="181.3" cy="337.0" r="1.38" fill="#f4f4f4"/>
<circle cx="183.9" cy="337.0" r="1.38" fill="#f4f4f4"/>
<circle cx="186.5" cy="337.0" r="1.38" fill="#f4f4f4"/>
<circle cx="189.1" cy="337.0" r="1.38" fill="#f4f4f4"/>
<circle cx="191.7" cy="337.0" r="1.38" fill="#f4f4f4"/>
<circle cx="194.3" cy="337.0" r="1.38" fill="#f4f4f4"/>
<circle cx="196.9" cy="337.0" r="1.38" fill="#f4f4f4"/>
<circle cx="199.5" cy="337.0" r="1.38" fill="#f4f4f4"/>
<circle cx="202.1" cy="337.0" r="1.38" fill="#f4f4f4"/>
<circle cx="204.7" cy="337.0" r="1.38" fill="#f4f4f4"/>
<circle cx="207.3" cy="337.0" r="1.38" fill="#f4f4f4"/>
<circle cx="209.9" cy="337.0" r="1.38" fill="#f4f4f4"/>
<circle cx="212.5" cy="337.0" r="1.38" fill="#f4f4f4"/>
<circle cx="215.1" cy="337.0" r="1.38" fill="#f4f4f4"/>
<circle cx="217.7" cy="337.0" r="1.38" fill="#f4f4f4"/>
<circle cx="220.3" cy="337.0" r="1.38" fill="#f4f4f4"/>
<circle cx="222.9" cy="337.0" r="1.38" fill="#f4f4f4"/>
<circle cx="225.5" cy="337.0" r="1.38" fill="#f4f4f4"/>
<circle cx="182.0" cy="339.2" r="1.38" fill="#f3f3f3"/>
<circle cx="184.6" cy="339.2" r="1.38" fill="#f3f3f3"/>
<circle cx="187.2" cy="339.2" r="1.38" fill="#f3f3f3"/>
<circle cx="189.8" cy="339.2" r="1.38" fill="#f3f3f3"/>
<circle cx="192.4" cy="339.2" r="1.38" fill="#f3f3f3"/>
<circle cx="195.0" cy="339.2" r="1.38" fill="#f3f3f3"/>
<circle cx="197.6" cy="339.2" r="1.38" fill="#f3f3f3"/>
<circle cx="200.2" cy="339.2" r="1.38" fill="#f3f3f3"/>
<circle cx="202.8" cy="339.2" r="1.38" fill="#f3f3f3"/>
<circle cx="205.4" cy="339.2" r="1.38" fill="#f3f3f3"/>
<circle cx="208.0" cy="339.2" r="1.38" fill="#f3f3f3"/>
<circle cx="210.6" cy="339.2" r="1.38" fill="#f3f3f3"/>
<circle cx="213.2" cy="339.2" r="1.38" fill="#f3f3f3"/>
<circle cx="215.8" cy="339.2" r="1.38" fill="#f3f3f3"/>
<circle cx="218.4" cy="339.2" r="1.38" fill="#f3f3f3"/>
<circle cx="200.6" cy="342.4" r="1.38" fill="#f0f2f0"/>
<circle cx="203.2" cy="342.4" r="1.38" fill="#f0f2f0"/>
<circle cx="205.8" cy="342.4" r="1.38" fill="#f0f2f0"/>
<circle cx="202.2" cy="354.9" r="1.65" fill="#b3cbad"/>
<circle cx="202.2" cy="360.6" r="1.65" fill="#b3cbad"/>
<text x="204.7" y="249.9" class="lb">pks</text>
<text x="204.7" y="310.8" class="lb">PL</text>
<circle cx="262.6" cy="257.7" r="1.65" fill="#d894b3"/>
<circle cx="262.6" cy="293.3" r="1.65" fill="#e7bccf"/>
<circle cx="262.6" cy="317.3" r="1.65" fill="#efdee5"/>
<circle cx="262.6" cy="326.5" r="1.65" fill="#f2eaed"/>
<circle cx="258.1" cy="332.0" r="1.38" fill="#f4f3f3"/>
<circle cx="260.7" cy="332.0" r="1.38" fill="#f4f3f3"/>
<circle cx="263.3" cy="332.0" r="1.38" fill="#f4f3f3"/>
<circle cx="265.9" cy="332.0" r="1.38" fill="#f4f3f3"/>
<circle cx="258.2" cy="334.5" r="1.38" fill="#f4f4f4"/>
<circle cx="260.8" cy="334.5" r="1.38" fill="#f4f4f4"/>
<circle cx="263.4" cy="334.5" r="1.38" fill="#f4f4f4"/>
<circle cx="266.0" cy="334.5" r="1.38" fill="#f4f4f4"/>
<circle cx="268.6" cy="334.5" r="1.38" fill="#f4f4f4"/>
<circle cx="258.4" cy="337.0" r="1.38" fill="#f0f2f0"/>
<circle cx="261.0" cy="337.0" r="1.38" fill="#f0f2f0"/>
<circle cx="263.6" cy="337.0" r="1.38" fill="#f0f2f0"/>
<circle cx="266.2" cy="337.0" r="1.38" fill="#f0f2f0"/>
<circle cx="268.8" cy="337.0" r="1.38" fill="#f0f2f0"/>
<circle cx="258.4" cy="339.6" r="1.38" fill="#ecefeb"/>
<circle cx="261.0" cy="339.6" r="1.38" fill="#ecefeb"/>
<circle cx="263.6" cy="339.6" r="1.38" fill="#ecefeb"/>
<circle cx="266.2" cy="339.6" r="1.38" fill="#ecefeb"/>
<circle cx="268.8" cy="339.6" r="1.38" fill="#ecefeb"/>
<circle cx="256.0" cy="342.3" r="1.38" fill="#e7ece5"/>
<circle cx="258.6" cy="342.3" r="1.38" fill="#e7ece5"/>
<circle cx="261.2" cy="342.3" r="1.38" fill="#e7ece5"/>
<circle cx="263.8" cy="342.3" r="1.38" fill="#e7ece5"/>
<circle cx="266.4" cy="342.3" r="1.38" fill="#e7ece5"/>
<circle cx="269.0" cy="342.3" r="1.38" fill="#e7ece5"/>
<circle cx="271.6" cy="342.3" r="1.38" fill="#e7ece5"/>
<circle cx="256.8" cy="344.8" r="1.38" fill="#e4ebe2"/>
<circle cx="259.4" cy="344.8" r="1.38" fill="#e4ebe2"/>
<circle cx="262.0" cy="344.8" r="1.38" fill="#e4ebe2"/>
<circle cx="264.6" cy="344.8" r="1.38" fill="#e4ebe2"/>
<circle cx="267.2" cy="344.8" r="1.38" fill="#e4ebe2"/>
<circle cx="262.6" cy="347.5" r="1.38" fill="#e0e9de"/>
<circle cx="262.6" cy="353.5" r="1.38" fill="#c8d9c3"/>
<circle cx="262.6" cy="356.2" r="1.38" fill="#c2d5bd"/>
<text x="265.3" y="262.0" class="lb">pks</text>
<text x="265.3" y="297.1" class="lb">SMC</text>
<circle cx="323.0" cy="291.3" r="1.65" fill="#f2eaed"/>
<circle cx="323.0" cy="313.6" r="1.65" fill="#f3f0f2"/>
<circle cx="319.1" cy="323.2" r="1.38" fill="#f4f3f3"/>
<circle cx="321.7" cy="323.2" r="1.38" fill="#f4f3f3"/>
<circle cx="324.3" cy="323.2" r="1.38" fill="#f4f3f3"/>
<circle cx="326.9" cy="323.2" r="1.38" fill="#f4f3f3"/>
<circle cx="316.2" cy="326.6" r="1.38" fill="#f4f4f4"/>
<circle cx="318.8" cy="326.6" r="1.38" fill="#f4f4f4"/>
<circle cx="321.4" cy="326.6" r="1.38" fill="#f4f4f4"/>
<circle cx="324.0" cy="326.6" r="1.38" fill="#f4f4f4"/>
<circle cx="326.6" cy="326.6" r="1.38" fill="#f4f4f4"/>
<circle cx="329.2" cy="326.6" r="1.38" fill="#f4f4f4"/>
<circle cx="331.8" cy="326.6" r="1.38" fill="#f4f4f4"/>
<circle cx="317.8" cy="329.4" r="1.38" fill="#f4f4f4"/>
<circle cx="320.4" cy="329.4" r="1.38" fill="#f4f4f4"/>
<circle cx="323.0" cy="329.4" r="1.38" fill="#f4f4f4"/>
<circle cx="325.6" cy="329.4" r="1.38" fill="#f4f4f4"/>
<circle cx="328.2" cy="329.4" r="1.38" fill="#f4f4f4"/>
<circle cx="321.0" cy="332.0" r="1.38" fill="#f3f3f3"/>
<circle cx="323.6" cy="332.0" r="1.38" fill="#f3f3f3"/>
<circle cx="326.2" cy="332.0" r="1.38" fill="#f3f3f3"/>
<circle cx="321.7" cy="334.5" r="1.38" fill="#f3f3f3"/>
<circle cx="324.3" cy="334.5" r="1.38" fill="#f3f3f3"/>
<circle cx="321.7" cy="337.0" r="1.38" fill="#f1f2f1"/>
<circle cx="324.3" cy="337.0" r="1.38" fill="#f1f2f1"/>
<circle cx="316.5" cy="339.5" r="1.38" fill="#f0f2f0"/>
<circle cx="319.1" cy="339.5" r="1.38" fill="#f0f2f0"/>
<circle cx="321.7" cy="339.5" r="1.38" fill="#f0f2f0"/>
<circle cx="324.3" cy="339.5" r="1.38" fill="#f0f2f0"/>
<circle cx="326.9" cy="339.5" r="1.38" fill="#f0f2f0"/>
<circle cx="329.5" cy="339.5" r="1.38" fill="#f0f2f0"/>
<circle cx="332.1" cy="339.5" r="1.38" fill="#f0f2f0"/>
<circle cx="321.9" cy="342.0" r="1.38" fill="#eff1ee"/>
<circle cx="324.5" cy="342.0" r="1.38" fill="#eff1ee"/>
<circle cx="327.1" cy="342.0" r="1.38" fill="#eff1ee"/>
<circle cx="322.7" cy="344.5" r="1.38" fill="#edf0ed"/>
<circle cx="325.3" cy="344.5" r="1.38" fill="#edf0ed"/>
<circle cx="323.0" cy="347.0" r="1.38" fill="#ecefeb"/>
<circle cx="323.0" cy="349.5" r="1.38" fill="#ebefea"/>
<circle cx="323.0" cy="363.0" r="1.65" fill="#e7ece5"/>
<circle cx="323.0" cy="371.6" r="1.65" fill="#e9eee8"/>
<circle cx="323.0" cy="384.2" r="1.65" fill="#e2e9df"/>
<text x="326.0" y="296.0" class="lb">nrps</text>
<text x="324.7" y="361.4" class="lb">CE</text>
<text x="329.2" y="376.1" class="lb">CBM</text>
<text x="324.7" y="390.0" class="lb">AA</text>
<circle cx="383.3" cy="251.7" r="1.65" fill="#c76d98"/>
<circle cx="383.3" cy="314.4" r="1.65" fill="#edd5e0"/>
<circle cx="383.6" cy="323.0" r="1.38" fill="#f2eaed"/>
<circle cx="386.2" cy="323.0" r="1.38" fill="#f2eaed"/>
<circle cx="380.7" cy="328.7" r="1.38" fill="#f4f4f4"/>
<circle cx="383.3" cy="328.7" r="1.38" fill="#f4f4f4"/>
<circle cx="385.9" cy="328.7" r="1.38" fill="#f4f4f4"/>
<circle cx="376.8" cy="331.5" r="1.38" fill="#f0f2f0"/>
<circle cx="379.4" cy="331.5" r="1.38" fill="#f0f2f0"/>
<circle cx="382.0" cy="331.5" r="1.38" fill="#f0f2f0"/>
<circle cx="384.6" cy="331.5" r="1.38" fill="#f0f2f0"/>
<circle cx="387.2" cy="331.5" r="1.38" fill="#f0f2f0"/>
<circle cx="389.8" cy="331.5" r="1.38" fill="#f0f2f0"/>
<circle cx="378.1" cy="334.0" r="1.38" fill="#e9eee8"/>
<circle cx="380.7" cy="334.0" r="1.38" fill="#e9eee8"/>
<circle cx="383.3" cy="334.0" r="1.38" fill="#e9eee8"/>
<circle cx="385.9" cy="334.0" r="1.38" fill="#e9eee8"/>
<circle cx="388.5" cy="334.0" r="1.38" fill="#e9eee8"/>
<circle cx="380.4" cy="336.6" r="1.38" fill="#e2e9df"/>
<circle cx="383.0" cy="336.6" r="1.38" fill="#e2e9df"/>
<circle cx="385.6" cy="336.6" r="1.38" fill="#e2e9df"/>
<circle cx="388.2" cy="336.6" r="1.38" fill="#e2e9df"/>
<circle cx="380.4" cy="339.0" r="1.38" fill="#dce6d9"/>
<circle cx="383.0" cy="339.0" r="1.38" fill="#dce6d9"/>
<circle cx="385.6" cy="339.0" r="1.38" fill="#dce6d9"/>
<circle cx="388.2" cy="339.0" r="1.38" fill="#dce6d9"/>
<circle cx="380.4" cy="341.4" r="1.38" fill="#d7e3d3"/>
<circle cx="383.0" cy="341.4" r="1.38" fill="#d7e3d3"/>
<circle cx="385.6" cy="341.4" r="1.38" fill="#d7e3d3"/>
<circle cx="388.2" cy="341.4" r="1.38" fill="#d7e3d3"/>
<circle cx="375.9" cy="343.8" r="1.38" fill="#d3e1cf"/>
<circle cx="378.5" cy="343.8" r="1.38" fill="#d3e1cf"/>
<circle cx="381.1" cy="343.8" r="1.38" fill="#d3e1cf"/>
<circle cx="383.7" cy="343.8" r="1.38" fill="#d3e1cf"/>
<circle cx="386.3" cy="343.8" r="1.38" fill="#d3e1cf"/>
<circle cx="388.9" cy="343.8" r="1.38" fill="#d3e1cf"/>
<circle cx="391.5" cy="343.8" r="1.38" fill="#d3e1cf"/>
<circle cx="381.7" cy="346.4" r="1.38" fill="#d0dfcb"/>
<circle cx="384.3" cy="346.4" r="1.38" fill="#d0dfcb"/>
<circle cx="386.9" cy="346.4" r="1.38" fill="#d0dfcb"/>
<circle cx="382.6" cy="349.0" r="1.38" fill="#cdddc9"/>
<circle cx="385.2" cy="349.0" r="1.38" fill="#cdddc9"/>
<circle cx="383.3" cy="353.2" r="1.65" fill="#b6cdb1"/>
<circle cx="383.3" cy="356.5" r="1.65" fill="#b3cbad"/>
<text x="384.5" y="262.9" class="lb">terpene</text>
<circle cx="443.7" cy="250.5" r="1.65" fill="#c56794"/>
<circle cx="443.7" cy="310.0" r="1.65" fill="#e4b0c7"/>
<circle cx="443.7" cy="320.4" r="1.65" fill="#ecd1dd"/>
<circle cx="443.7" cy="328.0" r="1.38" fill="#f1e8ec"/>
<circle cx="442.4" cy="331.0" r="1.38" fill="#f3f0f2"/>
<circle cx="445.0" cy="331.0" r="1.38" fill="#f3f0f2"/>
<circle cx="431.0" cy="333.2" r="1.38" fill="#f4f4f4"/>
<circle cx="433.6" cy="333.2" r="1.38" fill="#f4f4f4"/>
<circle cx="436.2" cy="333.2" r="1.38" fill="#f4f4f4"/>
<circle cx="438.8" cy="333.2" r="1.38" fill="#f4f4f4"/>
<circle cx="441.4" cy="333.2" r="1.38" fill="#f4f4f4"/>
<circle cx="444.0" cy="333.2" r="1.38" fill="#f4f4f4"/>
<circle cx="446.6" cy="333.2" r="1.38" fill="#f4f4f4"/>
<circle cx="449.2" cy="333.2" r="1.38" fill="#f4f4f4"/>
<circle cx="451.8" cy="333.2" r="1.38" fill="#f4f4f4"/>
<circle cx="454.4" cy="333.2" r="1.38" fill="#f4f4f4"/>
<circle cx="441.1" cy="335.6" r="1.38" fill="#f1f2f1"/>
<circle cx="443.7" cy="335.6" r="1.38" fill="#f1f2f1"/>
<circle cx="446.3" cy="335.6" r="1.38" fill="#f1f2f1"/>
<circle cx="439.8" cy="338.2" r="1.38" fill="#eff1ee"/>
<circle cx="442.4" cy="338.2" r="1.38" fill="#eff1ee"/>
<circle cx="445.0" cy="338.2" r="1.38" fill="#eff1ee"/>
<circle cx="447.6" cy="338.2" r="1.38" fill="#eff1ee"/>
<circle cx="440.3" cy="341.0" r="1.38" fill="#ebefea"/>
<circle cx="442.9" cy="341.0" r="1.38" fill="#ebefea"/>
<circle cx="445.5" cy="341.0" r="1.38" fill="#ebefea"/>
<circle cx="448.1" cy="341.0" r="1.38" fill="#ebefea"/>
<circle cx="434.9" cy="343.8" r="1.38" fill="#e7ece5"/>
<circle cx="437.5" cy="343.8" r="1.38" fill="#e7ece5"/>
<circle cx="440.1" cy="343.8" r="1.38" fill="#e7ece5"/>
<circle cx="442.7" cy="343.8" r="1.38" fill="#e7ece5"/>
<circle cx="445.3" cy="343.8" r="1.38" fill="#e7ece5"/>
<circle cx="447.9" cy="343.8" r="1.38" fill="#e7ece5"/>
<circle cx="450.5" cy="343.8" r="1.38" fill="#e7ece5"/>
<circle cx="439.8" cy="346.5" r="1.38" fill="#e3eae1"/>
<circle cx="442.4" cy="346.5" r="1.38" fill="#e3eae1"/>
<circle cx="445.0" cy="346.5" r="1.38" fill="#e3eae1"/>
<circle cx="447.6" cy="346.5" r="1.38" fill="#e3eae1"/>
<circle cx="442.4" cy="349.5" r="1.38" fill="#dfe8dc"/>
<circle cx="445.0" cy="349.5" r="1.38" fill="#dfe8dc"/>
<circle cx="443.7" cy="359.4" r="1.65" fill="#bcd1b7"/>
<text x="400.5" y="249.0" class="lb">terpene</text>
<text x="496" y="78.7" class="lt">Fold change</text>
<rect x="496" y="83.4" width="16" height="81.8" fill="url(#gA)"/>
<line x1="496" x2="499.2" y1="93.6" y2="93.6" stroke="#fff" stroke-width="0.5"/>
<line x1="508.8" x2="512" y1="93.6" y2="93.6" stroke="#fff" stroke-width="0.5"/>
<text x="515.3" y="96.6" class="ll">0.2</text>
<line x1="496" x2="499.2" y1="117.7" y2="117.7" stroke="#fff" stroke-width="0.5"/>
<line x1="508.8" x2="512" y1="117.7" y2="117.7" stroke="#fff" stroke-width="0.5"/>
<text x="515.3" y="120.7" class="ll">0.0</text>
<line x1="496" x2="499.2" y1="141.7" y2="141.7" stroke="#fff" stroke-width="0.5"/>
<line x1="508.8" x2="512" y1="141.7" y2="141.7" stroke="#fff" stroke-width="0.5"/>
<text x="515.3" y="144.7" class="ll">−0.2</text>
<line x1="496" x2="499.2" y1="165.2" y2="165.2" stroke="#fff" stroke-width="0.5"/>
<line x1="508.8" x2="512" y1="165.2" y2="165.2" stroke="#fff" stroke-width="0.5"/>
<text x="515.3" y="168.2" class="ll">−0.4</text>
<text x="496" y="283.8" class="lt">Fold change</text>
<rect x="496" y="289.3" width="16" height="81.3" fill="url(#gB)"/>
<line x1="496" x2="499.2" y1="296.2" y2="296.2" stroke="#fff" stroke-width="0.5"/>
<line x1="508.8" x2="512" y1="296.2" y2="296.2" stroke="#fff" stroke-width="0.5"/>
<text x="515.3" y="299.2" class="ll">2.0</text>
<line x1="496" x2="499.2" y1="310.9" y2="310.9" stroke="#fff" stroke-width="0.5"/>
<line x1="508.8" x2="512" y1="310.9" y2="310.9" stroke="#fff" stroke-width="0.5"/>
<text x="515.3" y="313.9" class="ll">1.5</text>
<line x1="496" x2="499.2" y1="325.6" y2="325.6" stroke="#fff" stroke-width="0.5"/>
<line x1="508.8" x2="512" y1="325.6" y2="325.6" stroke="#fff" stroke-width="0.5"/>
<text x="515.3" y="328.6" class="ll">1.0</text>
<line x1="496" x2="499.2" y1="340.4" y2="340.4" stroke="#fff" stroke-width="0.5"/>
<line x1="508.8" x2="512" y1="340.4" y2="340.4" stroke="#fff" stroke-width="0.5"/>
<text x="515.3" y="343.4" class="ll">0.5</text>
<line x1="496" x2="499.2" y1="355.2" y2="355.2" stroke="#fff" stroke-width="0.5"/>
<line x1="508.8" x2="512" y1="355.2" y2="355.2" stroke="#fff" stroke-width="0.5"/>
<text x="515.3" y="358.2" class="ll">0.0</text>
<line x1="496" x2="499.2" y1="369.9" y2="369.9" stroke="#fff" stroke-width="0.5"/>
<line x1="508.8" x2="512" y1="369.9" y2="369.9" stroke="#fff" stroke-width="0.5"/>
<text x="515.3" y="372.9" class="ll">−0.5</text>
</svg>
</body></html>
